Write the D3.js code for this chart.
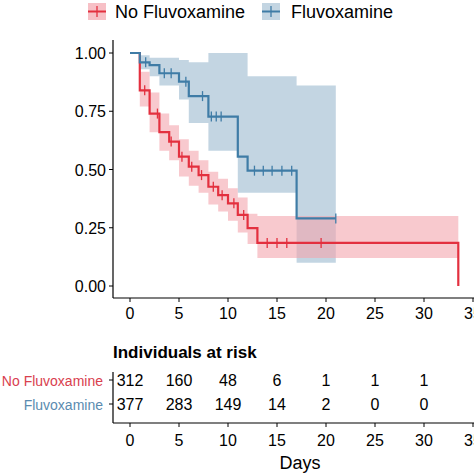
<!DOCTYPE html>
<html><head><meta charset="utf-8">
<script src="https://cdn.jsdelivr.net/npm/d3@7"></script>
<style>body{margin:0;background:#fff}text{font-family:"Liberation Sans",Arial,sans-serif}</style>
</head><body><svg id="c" width="474" height="474"></svg>
<script>
const groups=["No Fluvoxamine","Fluvoxamine"];
const colors=["#e3303f","#3f7ca6"];
const fills=["#f4a5ae","#a9c3d6"];
const redT=[0,1,2,3,4,5,6,7,8,9,10,11,12,13,33.5];
const redS=[1,0.84,0.74,0.66,0.62,0.555,0.512,0.476,0.426,0.39,0.355,0.305,0.248,0.185,0];
const redU=[1,0.92,0.83,0.74,0.69,0.63,0.58,0.54,0.49,0.46,0.42,0.38,0.31,0.30,0.30];
const redL=[1,0.77,0.66,0.58,0.54,0.47,0.43,0.40,0.35,0.32,0.28,0.23,0.18,0.12,0.12];
const redEnd=33.5;
const redCens=[1.5,2.8,4.2,5.3,6.3,7.3,8.5,9.4,10.6,11.6,14,15,16,19.5];
const bluT=[0,1,2,3,5,6,8,11,12,17];
const bluS=[1,0.96,0.948,0.913,0.877,0.815,0.727,0.555,0.495,0.29];
const bluU=[1,0.99,0.98,0.98,0.97,0.96,1,1,0.90,0.86];
const bluL=[1,0.93,0.90,0.86,0.80,0.70,0.58,0.40,0.40,0.10];
const bluEnd=21;
const bluCens=[1.6,3.5,4.2,5.7,7.4,8.3,8.8,9.3,12.7,13.6,14.5,15.5,16.5,21];
const xTicks=[0,5,10,15,20,25,30,35];
const yTicks=[0,0.25,0.5,0.75,1];
const riskRed=[312,160,48,6,1,1,1];
const riskBlue=[377,283,149,14,2,0,0];

const svg=d3.select("#c");
const x=d3.scaleLinear().domain([0,30]).range([130,424]);
const y=d3.scaleLinear().domain([0,1]).range([286,53]);

function stepPts(T,S,end){const p=[];for(let i=0;i<T.length;i++){p.push([T[i],S[i]]);const n=i<T.length-1?T[i+1]:end;p.push([n,S[i]]);}return p;}
function band(T,U,L,end){const up=stepPts(T,U,end),lo=stepPts(T,L,end);return up.map((d,i)=>[d[0],d[1],lo[i][1]]);}
const area=d3.area().x(d=>x(d[0])).y0(d=>y(d[2])).y1(d=>y(d[1]));
const line=d3.line().x(d=>x(d[0])).y(d=>y(d[1]));

svg.append("path").attr("d",area(band(bluT,bluU,bluL,bluEnd))).attr("fill",fills[1]).attr("opacity",0.7);
svg.append("path").attr("d",area(band(redT,redU,redL,redEnd).slice(0,-2))).attr("fill",fills[0]).attr("opacity",0.6);

svg.append("path").attr("d",line(stepPts(redT,redS,redEnd).slice(0,-1))).attr("fill","none").attr("stroke",colors[0]).attr("stroke-width",2.2);
svg.append("path").attr("d",line(stepPts(bluT,bluS,bluEnd))).attr("fill","none").attr("stroke",colors[1]).attr("stroke-width",2.2);
function survAt(T,S,t){let s=S[0];for(let i=0;i<T.length;i++)if(T[i]<=t)s=S[i];return s;}
redCens.forEach(t=>svg.append("line").attr("x1",x(t)).attr("x2",x(t)).attr("y1",y(survAt(redT,redS,t))-5).attr("y2",y(survAt(redT,redS,t))+5).attr("stroke",colors[0]).attr("stroke-width",1.3));
bluCens.forEach(t=>svg.append("line").attr("x1",x(t)).attr("x2",x(t)).attr("y1",y(survAt(bluT,bluS,t))-5).attr("y2",y(survAt(bluT,bluS,t))+5).attr("stroke",colors[1]).attr("stroke-width",1.3));

const ax=svg.append("g");
ax.append("line").attr("x1",113).attr("x2",113).attr("y1",40).attr("y2",298).attr("stroke","#000").attr("stroke-width",1.2);
ax.append("line").attr("x1",113).attr("x2",474).attr("y1",298).attr("y2",298).attr("stroke","#000").attr("stroke-width",1.2);
yTicks.forEach(t=>{ax.append("line").attr("x1",109).attr("x2",113).attr("y1",y(t)).attr("y2",y(t)).attr("stroke","#000");
 ax.append("text").attr("x",106).attr("y",y(t)+6).attr("text-anchor","end").attr("font-size",16).text(t.toFixed(2));});
xTicks.forEach(t=>{ax.append("line").attr("x1",x(t)).attr("x2",x(t)).attr("y1",298).attr("y2",302).attr("stroke","#000");
 ax.append("text").attr("x",x(t)).attr("y",319).attr("text-anchor","middle").attr("font-size",16).text(t);});

[[88,115,0],[262,291,1]].forEach(([kx,tx,i])=>{
 svg.append("rect").attr("x",kx).attr("y",3).attr("width",18).attr("height",17).attr("fill",fills[i]).attr("opacity",0.7);
 svg.append("line").attr("x1",kx).attr("x2",kx+18).attr("y1",11.5).attr("y2",11.5).attr("stroke",colors[i]).attr("stroke-width",2);
 svg.append("line").attr("x1",kx+9).attr("x2",kx+9).attr("y1",6).attr("y2",17).attr("stroke",colors[i]).attr("stroke-width",1.3);
 svg.append("text").attr("x",tx).attr("y",18).attr("font-size",18).text(groups[i]);});

svg.append("text").attr("x",113).attr("y",358).attr("font-size",17).attr("font-weight","bold").text("Individuals at risk");
const rows=[[riskRed,386,0],[riskBlue,410,1]];
svg.append("line").attr("x1",113).attr("x2",113).attr("y1",372).attr("y2",423).attr("stroke","#000").attr("stroke-width",1.2);
svg.append("line").attr("x1",113).attr("x2",474).attr("y1",423).attr("y2",423).attr("stroke","#000").attr("stroke-width",1.2);
rows.forEach(([vals,yy,i])=>{
 svg.append("line").attr("x1",109).attr("x2",113).attr("y1",yy-6).attr("y2",yy-6).attr("stroke","#000");
 svg.append("text").attr("x",103).attr("y",yy).attr("text-anchor","end").attr("font-size",14).attr("fill",i?"#5a8bb0":"#d9404e").text(groups[i]);
 vals.forEach((v,j)=>svg.append("text").attr("x",x(xTicks[j])).attr("y",yy).attr("text-anchor","middle").attr("font-size",16).text(v));});
xTicks.forEach(t=>{svg.append("line").attr("x1",x(t)).attr("x2",x(t)).attr("y1",423).attr("y2",427).attr("stroke","#000");
 svg.append("text").attr("x",x(t)).attr("y",446).attr("text-anchor","middle").attr("font-size",16).text(t);});
svg.append("text").attr("x",300).attr("y",469).attr("text-anchor","middle").attr("font-size",18).text("Days");
</script></body></html>
